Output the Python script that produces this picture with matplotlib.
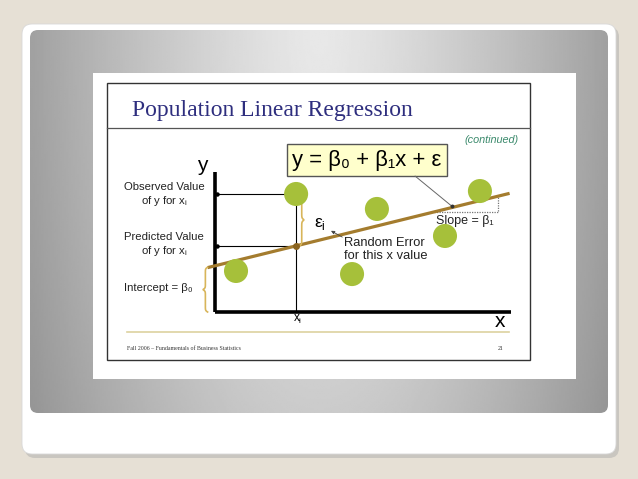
import numpy as np
import matplotlib.pyplot as plt
from matplotlib.patches import FancyBboxPatch, Rectangle

plt.rcParams['font.family'] = ['Liberation Sans', 'DejaVu Sans']

# data (abstract units)
pts_x = [0.71, 2.74, 5.47, 4.63, 7.77, 8.95]
pts_y = [2.93, 8.43, 7.36, 2.71, 5.43, 8.64]
beta0 = 3.3
beta1 = 0.52
line_x = [-0.2, 9.9]
xi = 2.74
y_obs = 8.43
slope_x = [7.4, 9.55]

W, H = 638, 479
fig = plt.figure(figsize=(W / 100, H / 100), dpi=100)

# background / slide frame in pixel coords
bg = fig.add_axes([0, 0, 1, 1])
bg.set_xlim(0, W)
bg.set_ylim(H, 0)
bg.axis('off')
bg.add_patch(Rectangle((0, 0), W, H, color='#e6e0d5', zorder=0))
bg.add_patch(FancyBboxPatch((25, 27), 594, 431, boxstyle='round,pad=0,rounding_size=10',
                            fc='#c9c6c0', ec='none', zorder=1))
bg.add_patch(FancyBboxPatch((22, 24), 594, 430, boxstyle='round,pad=0,rounding_size=10',
                            fc='white', ec='#d8d8d8', lw=0.6, zorder=2))
panel = FancyBboxPatch((30, 30), 578, 383, boxstyle='round,pad=0,rounding_size=8',
                       fc='none', ec='none', zorder=3)
bg.add_patch(panel)
gx, gy = np.meshgrid(np.linspace(-1, 1, 300), np.linspace(0, 1, 200))
shade = 0.91 - 0.28 * np.sqrt((gx * 1.0) ** 2 + (gy * 0.5) ** 2) ** 1.3
img = bg.imshow(shade, cmap='gray', vmin=0, vmax=1, extent=(30, 608, 413, 30),
                zorder=3, aspect='auto', interpolation='bilinear')
img.set_clip_path(panel)
bg.add_patch(Rectangle((93, 73), 483, 306, fc='white', ec='none', zorder=4))
bg.add_patch(Rectangle((107, 83), 423, 277, fc='none', ec='#333333', lw=1.0, zorder=5))
bg.plot([107, 530], [128, 128], color='#555555', lw=0.9, zorder=5)
bg.text(132, 110, 'Population Linear Regression', family='Liberation Serif', fontsize=17,
        color='#2e2e7e', va='center', ha='left', zorder=6)
bg.text(519, 140, '(continued)', fontsize=7.8, style='italic', color='#3b8a6c',
        ha='right', va='center', zorder=6)
bg.plot([127, 509], [332, 332], color='#ddd2a0', lw=1.2, zorder=5)
bg.text(127, 348, 'Fall 2006 – Fundamentals of Business Statistics', family='Liberation Serif',
        fontsize=4.2, color='#333333', va='center', zorder=6)
bg.text(503, 348, '21', family='Liberation Serif', fontsize=4.2, color='#333333',
        ha='right', va='center', zorder=6)

# equation box
bg.add_patch(Rectangle((287, 144), 160, 32, fc='#ffffcc', ec='#555555', lw=1.0, zorder=6))
bg.text(367, 160.5, 'y = β₀ + β₁x + ε', fontsize=15.8, ha='center', va='center',
        color='black', zorder=7)

# regression chart
ax = fig.add_axes([215 / W, (H - 312) / H, 296 / W, 140 / H])
ax.set_xlim(0, 10)
ax.set_ylim(0, 10)
ax.patch.set_alpha(0)
ax.set_zorder(10)
for s in ['top', 'right']:
    ax.spines[s].set_visible(False)
for s in ['left', 'bottom']:
    ax.spines[s].set_linewidth(2.6)
    ax.spines[s].set_capstyle('butt')
ax.set_xticks([])
ax.set_yticks([])

y_pred = beta0 + beta1 * xi
ax.plot([xi, xi], [0, y_obs], color='black', lw=0.8, zorder=2)
ax.plot([0, xi], [y_obs, y_obs], color='black', lw=0.8, zorder=2)
ax.plot([0, xi], [y_pred, y_pred], color='black', lw=0.8, zorder=2)
ax.plot([0.08, 0.08], [y_obs, y_pred], 'o', color='black', ms=2.2, zorder=3)

lx = np.array(line_x)
ax.plot(lx, beta0 + beta1 * lx, color='#a47c2e', lw=2.3, zorder=3, clip_on=False)
ax.plot([xi], [y_pred], 'o', color='#8a6420', ms=4, zorder=4)

ax.scatter(pts_x, pts_y, s=300, color='#a6c03a', edgecolors='none', zorder=5, clip_on=False)

# slope triangle
ys0 = beta0 + beta1 * slope_x[0]
ax.plot([slope_x[0], slope_x[1], slope_x[1]],
        [ys0, ys0, beta0 + beta1 * slope_x[1]],
        color='#777777', lw=0.9, ls=(0, (1, 1)), zorder=2)
ax.text(slope_x[0] + 0.05, ys0 - 0.62, 'Slope = β₁', fontsize=9, va='center', ha='left',
        color='#222222')


def brace(x0, y0, y1, w, k=60):
    s = np.linspace(0, 0.5, 60)
    half = 1 / (1 + np.exp(-k * (s - s[0]))) + 1 / (1 + np.exp(-k * (s - s[-1])))
    full = np.concatenate([half, half[::-1]])
    full = (full - full[0]) / (full.max() - full[0])
    ys = np.linspace(y0, y1, len(full))
    return x0 + w * full, ys


bx, by = brace(2.86, y_pred, y_obs, 0.14)
ax.plot(bx, by, color='#d8b55a', lw=1.2, zorder=3)
bx, by = brace(-0.25, 0.0, beta0 - 0.1, -0.15)
ax.plot(bx, by, color='#d8b55a', lw=1.2, zorder=3, clip_on=False)

ax.text(3.55, 6.3, 'ε$_\\mathregular{i}$', fontsize=12.5, ha='center', va='center')
ax.annotate('', xy=(3.92, 5.8), xytext=(4.3, 5.35),
            arrowprops=dict(arrowstyle='-|>', color='#444444', lw=0.6,
                            mutation_scale=5, shrinkA=0, shrinkB=0))
ax.text(4.36, 4.45, 'Random Error\nfor this x value', fontsize=9.3, ha='left',
        va='center', linespacing=1.15, color='#222222')

# arrow from equation box to the line
ax.annotate('', xy=(8.0, beta0 + beta1 * 8.0 + 0.1), xytext=(6.76, 9.71),
            arrowprops=dict(arrowstyle='-', color='#666666', lw=0.7, shrinkA=0, shrinkB=0),
            annotation_clip=False)
ax.plot([8.0], [beta0 + beta1 * 8.0 + 0.1], 'o', color='#333333', ms=1.8, zorder=4)

# axis labels
ax.text(-0.44, 10.45, 'y', fontsize=15, ha='center', va='center')
ax.text(9.63, -0.65, 'x', fontsize=15, ha='center', va='center')
ax.text(2.8, -0.5, 'x$_\\mathregular{i}$', fontsize=8.5, ha='center', va='center')

ax.text(-1.72, y_obs - 0.1, 'Observed Value\nof y for x$_\\mathregular{i}$', fontsize=8.2,
        ha='center', va='center', linespacing=1.2, color='#222222')
ax.text(-1.72, y_pred + 0.05, 'Predicted Value\nof y for x$_\\mathregular{i}$', fontsize=8.2,
        ha='center', va='center', linespacing=1.2, color='#222222')
ax.text(-0.75, 1.7, 'Intercept = β₀', fontsize=8.2, ha='right', va='center', color='#222222')

fig.savefig('out.png', dpi=100)
